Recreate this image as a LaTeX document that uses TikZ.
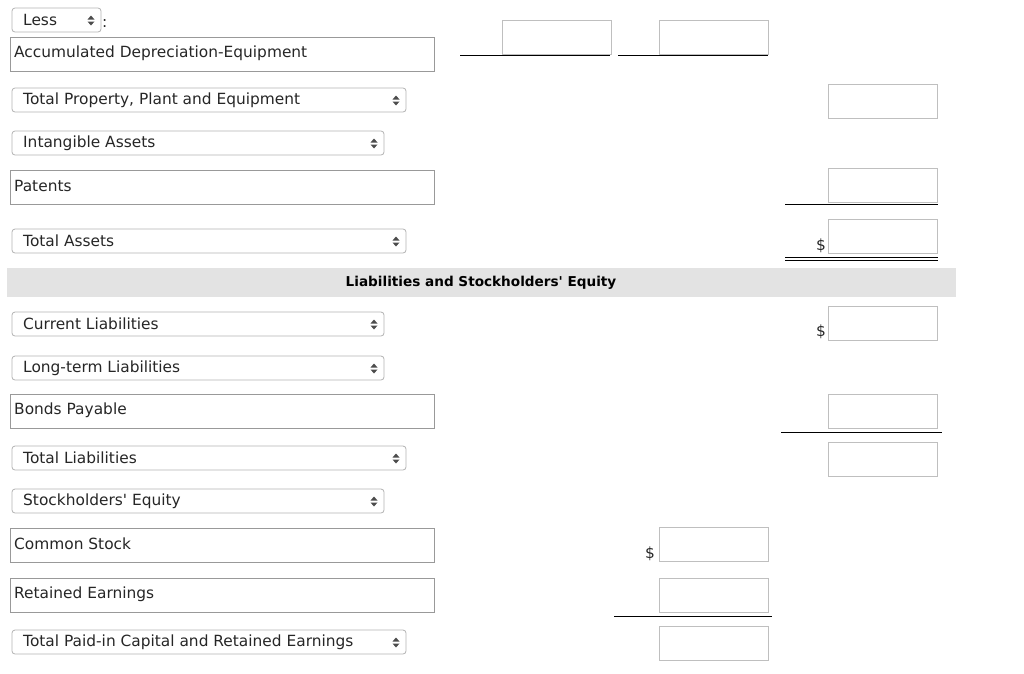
\documentclass[tikz,border=0pt]{standalone}
\usepackage{fontspec}
\setmainfont{DejaVu Sans}
\begin{document}
\begin{tikzpicture}[x=1pt,y=-1pt,
  dd/.style={draw=black!30,rounded corners=3pt,line width=0.8pt},
  tb/.style={draw=black!40,line width=0.8pt},
  ib/.style={draw=black!25,line width=0.8pt},
  lbl/.style={anchor=west,inner sep=0pt,font=\fontsize{15.4}{17}\selectfont,text=black!85},
  rl/.style={line width=0.8pt,black}]
\useasboundingbox (0,0) rectangle (1024,673);
\newcommand\ddbox[5]{% name,x1,y1,x2,text
  \draw[dd] (#2,#3) rectangle (#4,#3+24);
  \node[lbl] (#1) at (#2+11,#3+12) {#5};
  \fill[black!70] (#4-10,#3+7.5) -- (#4-13.5,#3+11.5) -- (#4-6.5,#3+11.5) -- cycle;
  \fill[black!70] (#4-10,#3+17.5) -- (#4-13.5,#3+13.5) -- (#4-6.5,#3+13.5) -- cycle;}
\newcommand\tbox[3]{\draw[tb] (10,#2) rectangle (434,#2+34);
  \node[lbl] (#1) at (14,#2+16) {#3};}
\newcommand\ibox[3]{\draw[ib] (#2,#3) rectangle (#2+109,#3+34);}
\ddbox{less}{12}{8}{101}{Less}
\node[lbl] (colon) at (102,24) {:};
\tbox{acc}{37}{Accumulated Depreciation-Equipment}
\ibox{i1}{502}{20}\ibox{i2}{659}{20}
\draw[rl] (460,55) -- (610,55); \draw[rl] (618,55) -- (768,55);
\ddbox{tppe}{12}{88}{406}{Total Property, Plant and Equipment}
\ibox{i3}{828}{84}
\ddbox{ia}{12}{131}{384}{Intangible Assets}
\tbox{pat}{170}{Patents}
\ibox{i4}{828}{168}
\draw[rl] (785,204) -- (938,204);
\ddbox{ta}{12}{229}{406}{Total Assets}
\node[lbl] (d1) at (816,246) {\$};
\ibox{i5}{828}{219}
\draw[rl] (785,257) -- (938,257); \draw[rl] (785,260) -- (938,260);
\fill[black!11] (7,268) rectangle (956,297);
\node[inner sep=0pt,font=\fontsize{13.6}{15}\selectfont\bfseries] (hd) at (481,283) {Liabilities and Stockholders\textquotesingle\ Equity};
\ddbox{cl}{12}{312}{384}{Current Liabilities}
\node[lbl] (d2) at (816,332) {\$};
\ibox{i6}{828}{306}
\ddbox{ltl}{12}{356}{384}{Long-term Liabilities}
\tbox{bp}{394}{Bonds Payable}
\ibox{i7}{828}{394}
\draw[rl] (781,432) -- (942,432);
\ddbox{tl}{12}{446}{406}{Total Liabilities}
\ibox{i8}{828}{442}
\ddbox{se}{12}{489}{384}{Stockholders\textquotesingle\ Equity}
\tbox{cs}{528}{Common Stock}
\node[lbl] (d3) at (645,554) {\$};
\ibox{i9}{659}{527}
\tbox{re}{578}{Retained Earnings}
\ibox{i10}{659}{578}
\draw[rl] (614,616) -- (772,616);
\ddbox{tpc}{12}{630}{406}{Total Paid-in Capital and Retained Earnings}
\ibox{i11}{659}{626}
\end{tikzpicture}
\end{document}
